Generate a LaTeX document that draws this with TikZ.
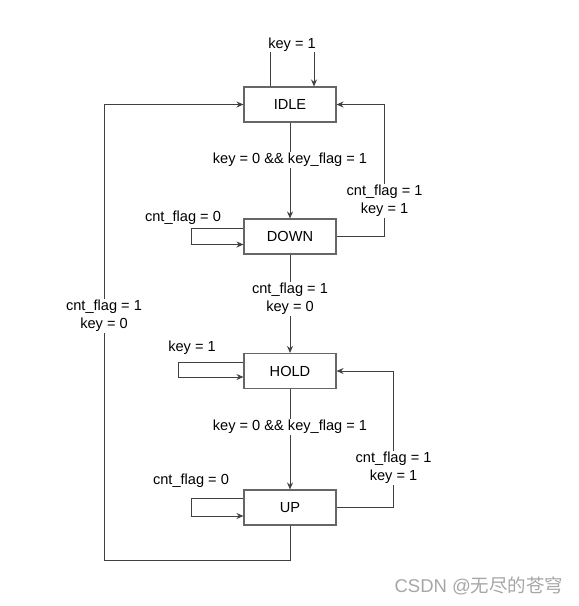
\documentclass[tikz,border=0pt]{standalone}
\usepackage{fontspec}
\setmainfont{Liberation Sans}
\newfontfamily\cjk{Noto Sans CJK SC}
\usetikzlibrary{arrows.meta}

\begin{document}
\begin{tikzpicture}[x=1pt,y=-1pt,
    state/.style={draw=black!60,line width=1.1pt,fill=white,minimum width=92pt,minimum height=35pt,inner sep=0pt,font=\fontsize{14.6}{17}\selectfont},
    lbl/.style={fill=white,inner sep=1pt,align=center,font=\fontsize{14.6}{18}\selectfont},
    edge/.style={draw=black!75,line width=1pt,-{Stealth[length=7pt,width=6pt]}}]
    \useasboundingbox (0,0) rectangle (579,606);
    %states
    \node[state] (idle) at (290,104.5) {IDLE};
    \node[state] (down) at (290,236.5) {DOWN};
    \node[state] (hold) at (290,371) {HOLD};
    \node[state] (up) at (290,507.5) {UP};
    %main chain
    \draw[edge] (idle.south) -- node[lbl,pos=0.39] (c1) {key = 0 \&\& key\_flag = 1} (down.north);
    \draw[edge] (down.south) -- node[lbl,pos=0.45] (c2) {cnt\_flag = 1\\key = 0} (hold.north);
    \draw[edge] (hold.south) -- node[lbl,pos=0.38] (c3) {key = 0 \&\& key\_flag = 1} (up.north);
    %self loops
    \draw[edge] ([xshift=-20pt]idle.north) -- ++(0,-42) -| node[lbl,pos=0.25] (s1) {key = 1} ([xshift=24pt]idle.north);
    \draw[edge] ([yshift=8.5pt]down.west) -- ++(-52,0) |- ([yshift=-8pt]down.west);
    \draw[edge] ([yshift=9pt]hold.west) -- ++(-65,0) |- ([yshift=-6pt]hold.west);
    \draw[edge] ([yshift=9.5pt]up.west) -- ++(-52,0) |- ([yshift=-8.5pt]up.west);
    \node[lbl] (s2) at (183,218) {cnt\_flag = 0};
    \node[lbl] (s3) at (192,348) {key = 1};
    \node[lbl] (s4) at (191,481) {cnt\_flag = 0};
    %returns
    \draw[edge] (down.east) -- ++(48,0) |- node[lbl,pos=0.135] (r1) {cnt\_flag = 1\\key = 1} (idle.east);
    \draw[edge] (up.east) -- ++(57,0) |- node[lbl,pos=0.145] (r2) {cnt\_flag = 1\\key = 1} (hold.east);
    \draw[edge] (up.south) -- ++(0,35) -- ++(-186,0) |- node[lbl,pos=0.268] (r3) {cnt\_flag = 1\\key = 0} (idle.west);
    %watermark
    \node[text=black!35,font=\fontsize{18.5}{20}\selectfont,anchor=east] (wm) at (567,586) {CSDN @{\cjk 无尽的苍穹}};
\end{tikzpicture}
\end{document}
